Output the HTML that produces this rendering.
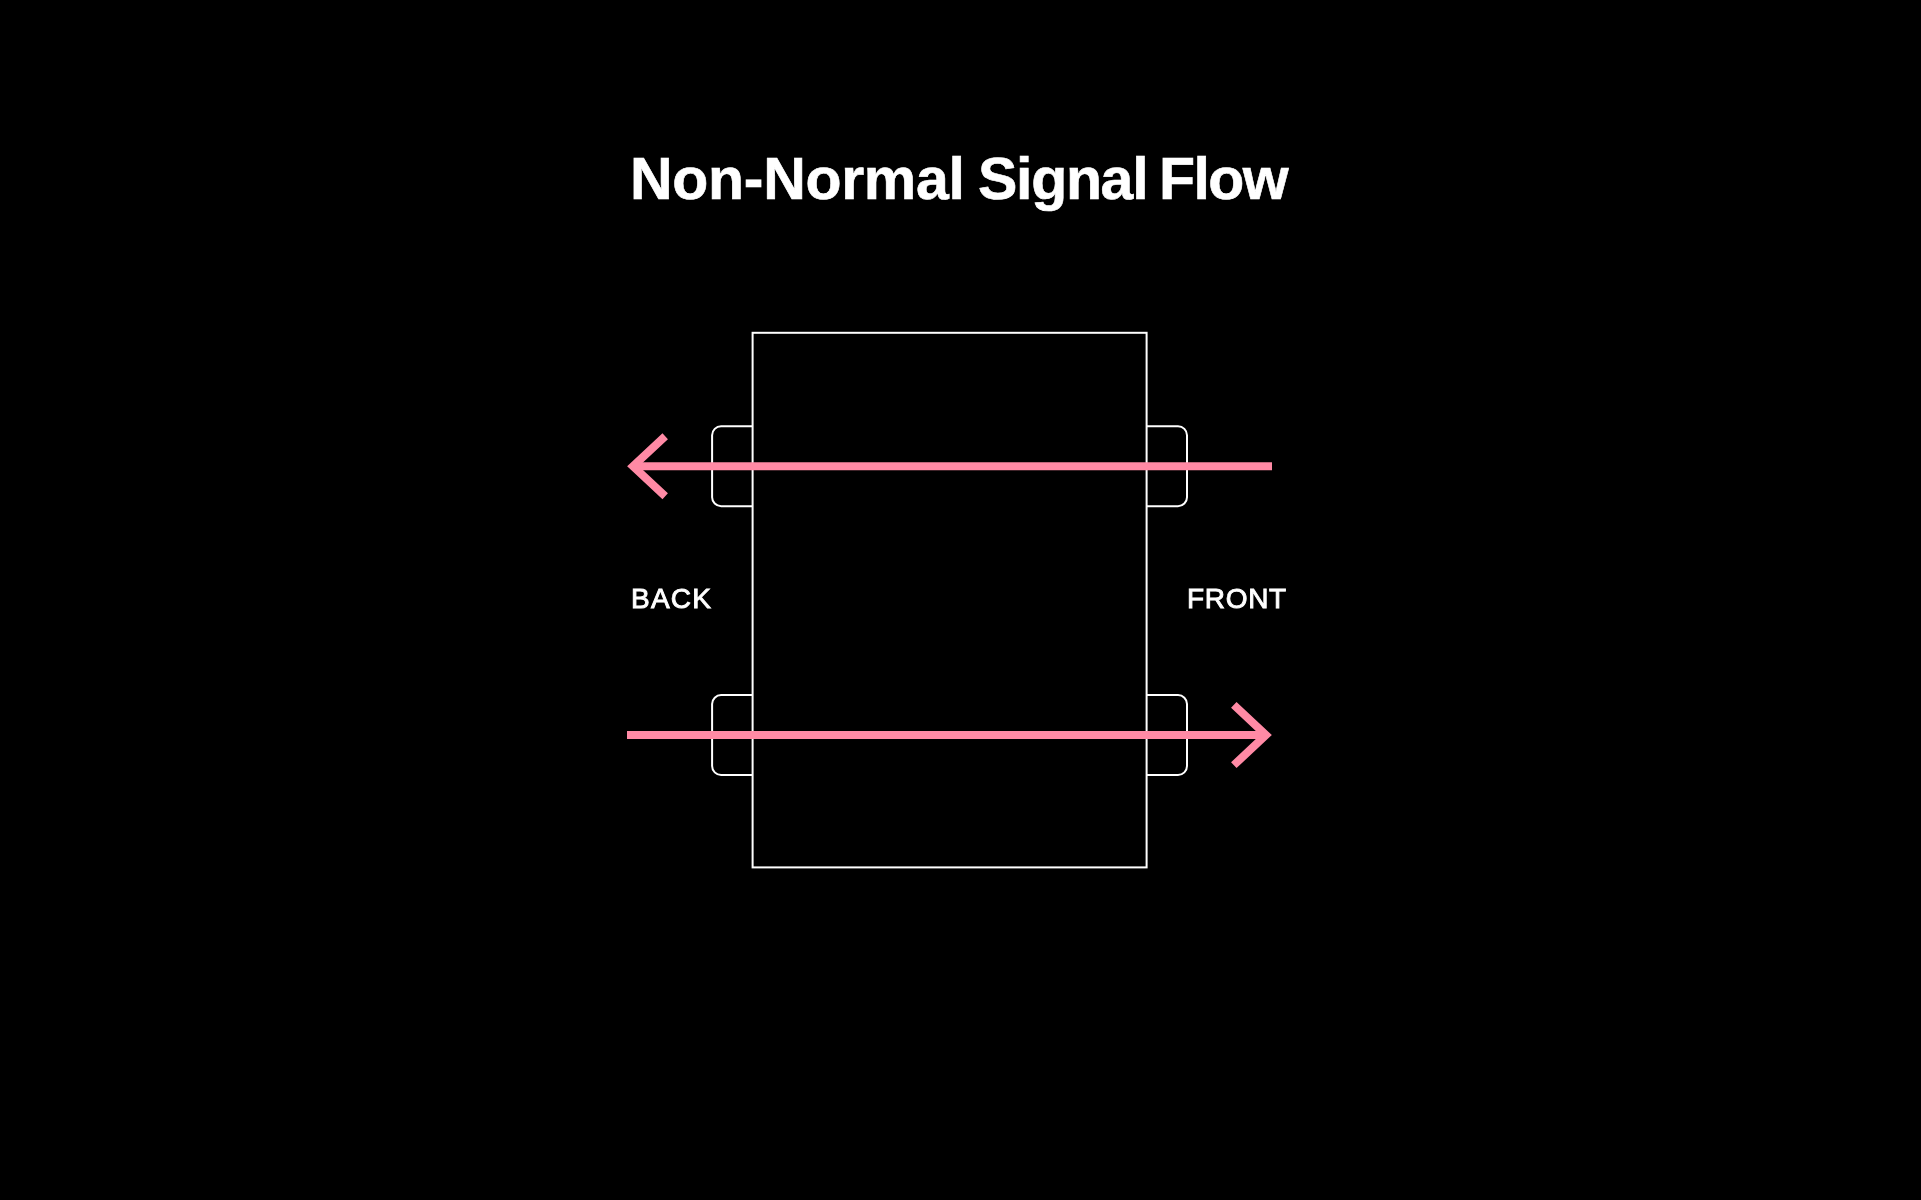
<!DOCTYPE html>
<html>
<head>
<meta charset="utf-8">
<style>
  html, body { margin: 0; padding: 0; background: #000; }
  body { width: 1921px; height: 1200px; overflow: hidden; position: relative; }
  svg { position: absolute; left: 0; top: 0; will-change: transform; }
  text { font-family: "Liberation Sans", sans-serif; fill: #fff; }
</style>
</head>
<body>
<svg width="1921" height="1200" viewBox="0 0 1921 1200">
  <rect x="0" y="0" width="1921" height="1200" fill="#000"/>
  <!-- Title -->
  <g font-size="59" font-weight="700" stroke="#fff" stroke-width="0.6">
    <text x="630" y="199" letter-spacing="-0.3">Non-Normal</text>
    <text x="978" y="199" letter-spacing="-1.3">Signal</text>
    <text x="1159" y="199" letter-spacing="-1.6">Flow</text>
  </g>

  <!-- Main box -->
  <g fill="none" stroke="#fff" stroke-width="2">
    <rect x="752.6" y="332.8" width="394" height="534.6"/>
    <!-- left tabs -->
    <path d="M752.6 426.2 H721.1 A9 9 0 0 0 712.1 435.2 V497.2 A9 9 0 0 0 721.1 506.2 H752.6"/>
    <path d="M752.6 695.1 H721.1 A9 9 0 0 0 712.1 704.1 V766 A9 9 0 0 0 721.1 775 H752.6"/>
    <!-- right tabs -->
    <path d="M1146.6 426.2 H1178 A9 9 0 0 1 1187 435.2 V497.2 A9 9 0 0 1 1178 506.2 H1146.6"/>
    <path d="M1146.6 695.1 H1178 A9 9 0 0 1 1187 704.1 V766 A9 9 0 0 1 1178 775 H1146.6"/>
  </g>

  <!-- Arrows -->
  <g fill="none" stroke="#FF8AA5" stroke-width="8" stroke-linejoin="miter" stroke-miterlimit="10">
    <path d="M1272 466.3 H633"/>
    <path d="M665.2 436.3 L633 466.3 L665.2 496.3"/>
    <path d="M627 735 H1266"/>
    <path d="M1233.8 704.8 L1266 735 L1233.8 765.2"/>
  </g>

  <!-- Labels -->
  <g font-size="28" font-weight="400" stroke="#fff" stroke-width="0.9">
    <text x="631" y="607.7" letter-spacing="1.2">BACK</text>
    <text x="1187" y="607.7" letter-spacing="0.7">FRONT</text>
  </g>
</svg>
</body>
</html>
